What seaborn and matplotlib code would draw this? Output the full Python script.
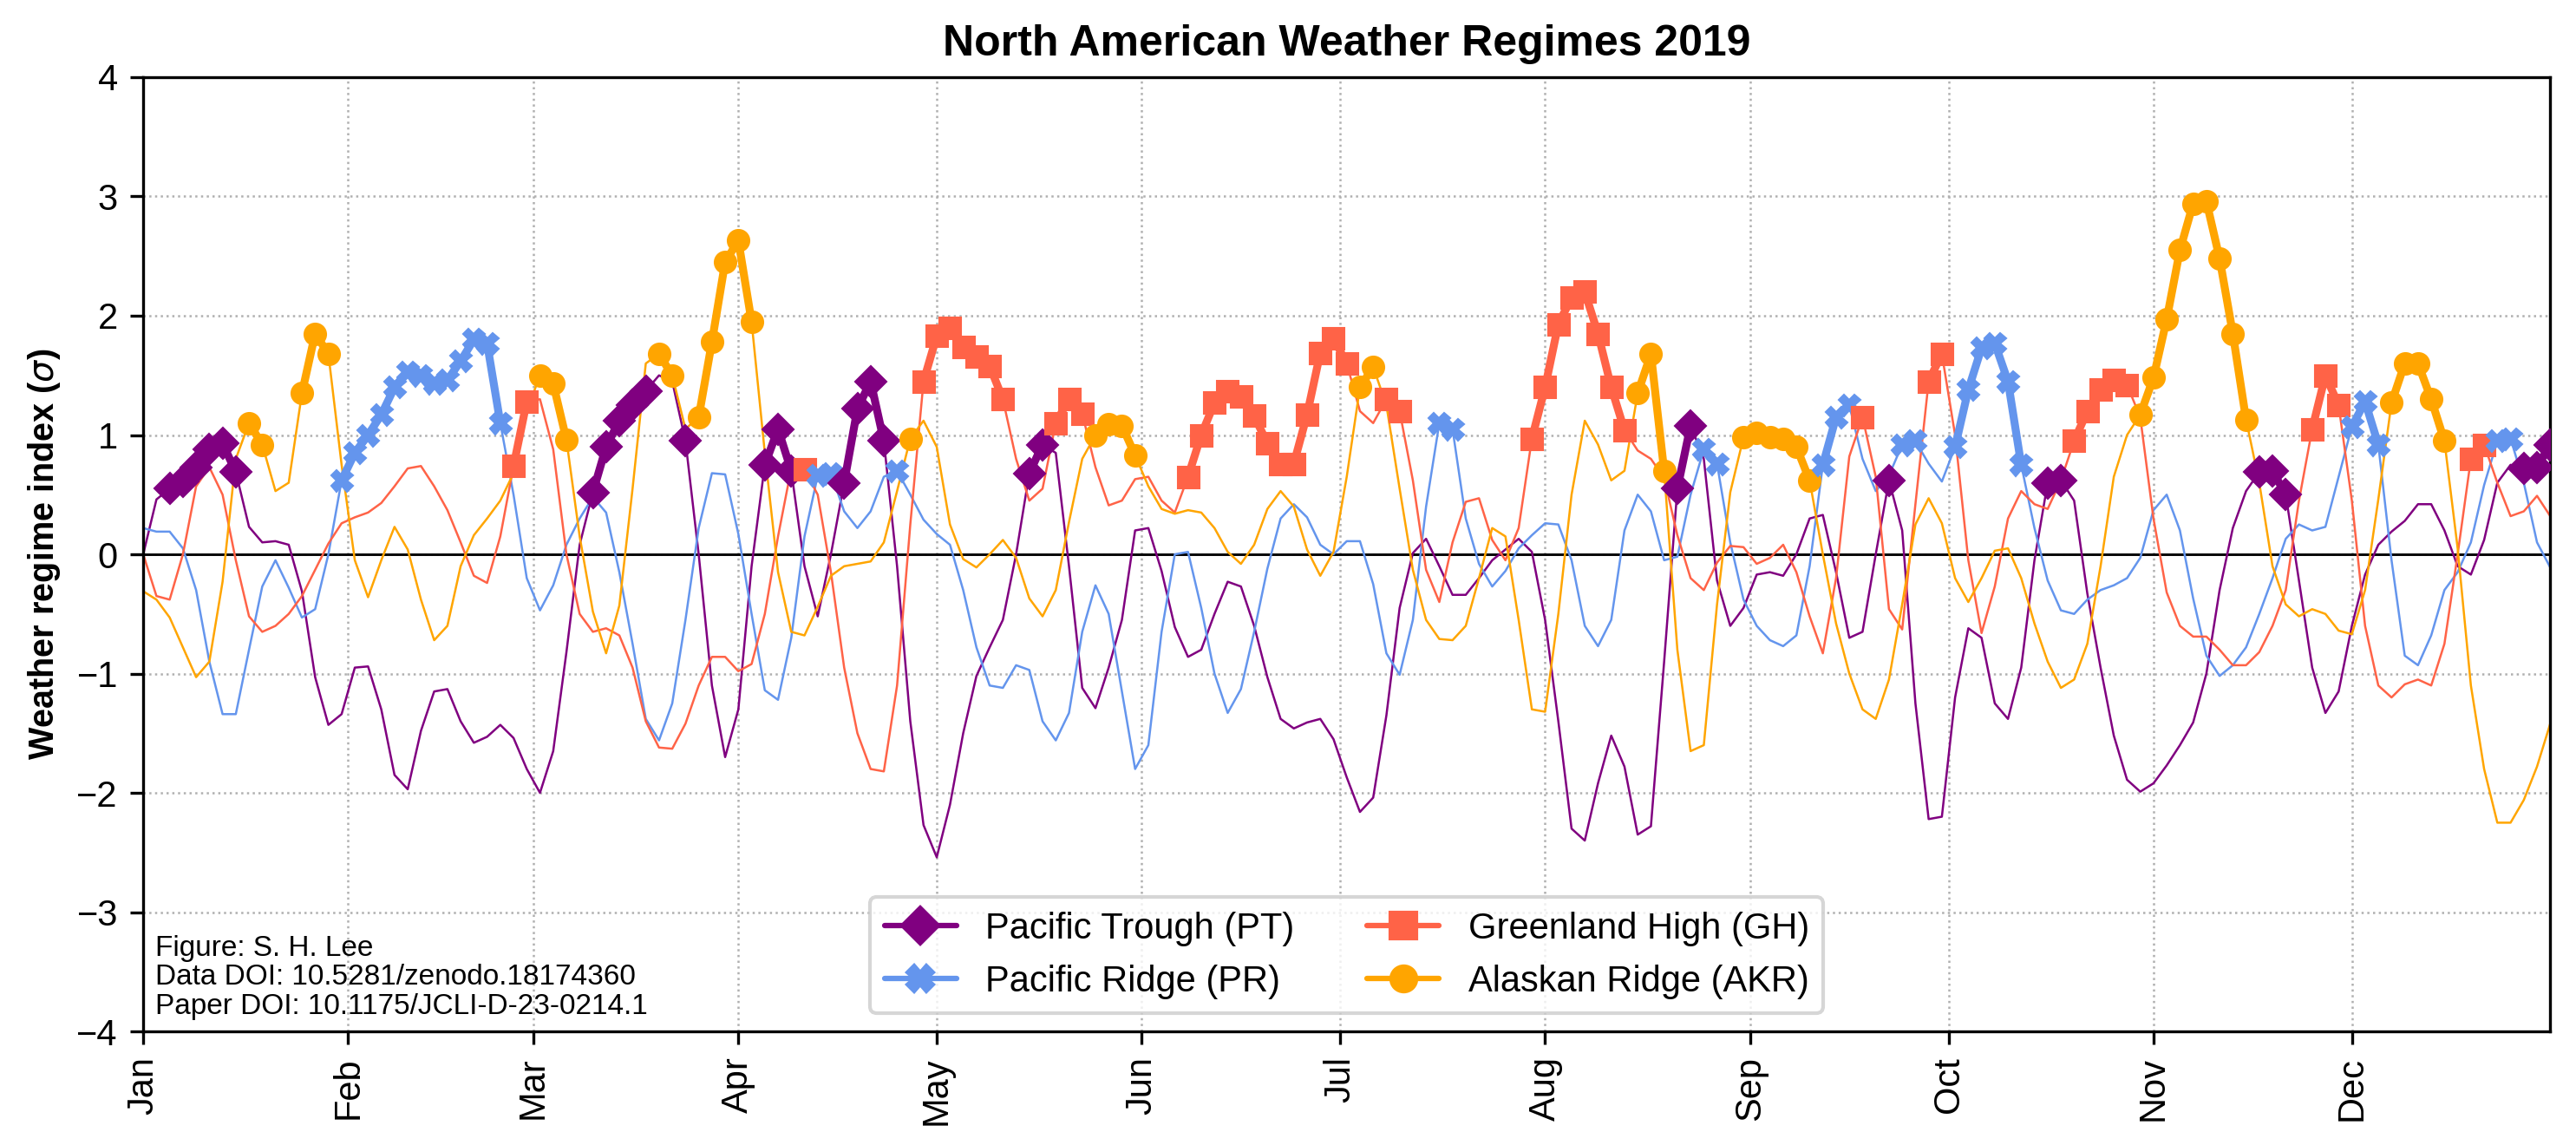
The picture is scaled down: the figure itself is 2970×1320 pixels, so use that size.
import numpy as np
import pandas as pd
import matplotlib
matplotlib.use("Agg")
import matplotlib.pyplot as plt
import matplotlib.dates as mdates
from matplotlib.lines import Line2D
import seaborn as sns

# index values read every second day of 2019 (day-of-year 0, 2, ..., 364)
DAYS = np.arange(0, 365, 2)

PT = [0.0, 0.46, 0.55, 0.61, 0.73, 0.88, 0.93, 0.69, 0.23, 0.10,
      0.11, 0.08, -0.31, -1.03, -1.43, -1.34, -0.95, -0.94, -1.3, -1.85,
      -1.97, -1.48, -1.15, -1.13, -1.4, -1.58, -1.53, -1.43, -1.54, -1.8,
      -2.0, -1.65, -0.82, 0.08, 0.52, 0.9, 1.12, 1.25, 1.37, 1.5,
      1.45, 0.95, 0.0, -1.1, -1.7, -1.3, -0.1, 0.75, 1.05, 0.7,
      -0.1, -0.52, 0.0, 0.6, 1.22, 1.45, 0.95, -0.1, -1.4, -2.27,
      -2.54, -2.1, -1.5, -1.02, -0.78, -0.55, 0.0, 0.68, 0.92, 0.85,
      -0.1, -1.12, -1.29, -0.95, -0.55, 0.2, 0.22, -0.14, -0.61, -0.86,
      -0.8, -0.5, -0.23, -0.27, -0.6, -1.03, -1.38, -1.46, -1.41, -1.38,
      -1.55, -1.87, -2.16, -2.04, -1.35, -0.45, 0.01, 0.13, -0.1, -0.34,
      -0.34, -0.2, -0.05, 0.04, 0.13, 0.02, -0.55, -1.4, -2.3, -2.4,
      -1.92, -1.52, -1.78, -2.35, -2.28, -0.9, 0.55, 1.08, 0.8, -0.22,
      -0.6, -0.45, -0.17, -0.15, -0.18, 0.0, 0.3, 0.33, -0.15, -0.7,
      -0.65, 0.0, 0.62, 0.2, -1.25, -2.22, -2.2, -1.2, -0.62, -0.7,
      -1.25, -1.38, -0.95, -0.05, 0.6, 0.62, 0.45, -0.33, -0.95, -1.52,
      -1.89, -1.99, -1.92, -1.77, -1.6, -1.41, -1.0, -0.3, 0.22, 0.53,
      0.69, 0.7, 0.5, -0.22, -0.95, -1.33, -1.15, -0.6, -0.17, 0.08,
      0.19, 0.28, 0.42, 0.42, 0.2, -0.1, -0.17, 0.12, 0.6, 0.75,
      0.72, 0.73, 0.92]

PR = [0.22, 0.19, 0.19, 0.05, -0.3, -0.9, -1.34, -1.34, -0.8, -0.27,
      -0.05, -0.28, -0.53, -0.46, 0.0, 0.62, 0.85, 1.0, 1.17, 1.4,
      1.53, 1.5, 1.43, 1.46, 1.62, 1.8, 1.77, 1.1, 0.5, -0.2,
      -0.47, -0.26, 0.08, 0.3, 0.48, 0.35, -0.15, -0.75, -1.38, -1.56,
      -1.25, -0.55, 0.22, 0.68, 0.67, 0.17, -0.5, -1.14, -1.22, -0.7,
      0.15, 0.66, 0.68, 0.36, 0.22, 0.36, 0.65, 0.7, 0.5, 0.29,
      0.17, 0.08, -0.3, -0.78, -1.1, -1.12, -0.93, -0.97, -1.4, -1.56,
      -1.33, -0.65, -0.26, -0.5, -1.15, -1.8, -1.6, -0.65, 0.0, 0.02,
      -0.45, -1.0, -1.33, -1.13, -0.65, -0.12, 0.3, 0.42, 0.31, 0.08,
      0.0, 0.11, 0.11, -0.25, -0.83, -1.01, -0.55, 0.4, 1.1, 1.05,
      0.3, -0.08, -0.27, -0.14, 0.05, 0.16, 0.26, 0.25, -0.05, -0.6,
      -0.77, -0.55, 0.2, 0.5, 0.36, -0.05, -0.02, 0.5, 0.88, 0.76,
      0.1, -0.38, -0.6, -0.72, -0.77, -0.68, -0.1, 0.75, 1.15, 1.25,
      0.8, 0.53, 0.66, 0.92, 0.95, 0.76, 0.61, 0.9, 1.38, 1.73,
      1.77, 1.45, 0.75, 0.22, -0.22, -0.47, -0.5, -0.38, -0.3, -0.26,
      -0.2, -0.03, 0.37, 0.5, 0.2, -0.37, -0.85, -1.02, -0.93, -0.78,
      -0.5, -0.2, 0.13, 0.25, 0.2, 0.23, 0.65, 1.07, 1.28, 0.92,
      -0.05, -0.85, -0.93, -0.68, -0.3, -0.15, 0.1, 0.58, 0.95, 0.97,
      0.6, 0.1, -0.11]

GH = [0.0, -0.35, -0.38, 0.0, 0.57, 0.73, 0.5, -0.05, -0.52, -0.65,
      -0.6, -0.5, -0.35, -0.13, 0.09, 0.26, 0.31, 0.35, 0.43, 0.57,
      0.72, 0.74, 0.57, 0.37, 0.1, -0.18, -0.24, 0.15, 0.74, 1.28,
      1.3, 0.88, 0.0, -0.5, -0.65, -0.62, -0.68, -0.95, -1.4, -1.62,
      -1.63, -1.42, -1.1, -0.86, -0.86, -0.98, -0.92, -0.5, 0.15, 0.72,
      0.71, 0.5, -0.15, -0.95, -1.5, -1.8, -1.82, -1.1, 0.25, 1.45,
      1.83, 1.9, 1.74, 1.66, 1.58, 1.3, 0.8, 0.45, 0.55, 1.1,
      1.3, 1.18, 0.73, 0.41, 0.45, 0.63, 0.65, 0.45, 0.35, 0.65,
      1.0, 1.27, 1.37, 1.32, 1.16, 0.93, 0.76, 0.76, 1.17, 1.69,
      1.81, 1.6, 1.2, 1.1, 1.3, 1.2, 0.62, -0.13, -0.4, 0.1,
      0.44, 0.47, 0.12, -0.05, 0.22, 0.97, 1.4, 1.93, 2.15, 2.2,
      1.85, 1.4, 1.04, 0.87, 0.8, 0.64, 0.16, -0.2, -0.3, -0.07,
      0.07, 0.06, -0.08, -0.03, 0.08, -0.15, -0.52, -0.83, -0.2, 0.82,
      1.15, 0.65, -0.46, -0.63, 0.42, 1.45, 1.68, 1.0, -0.05, -0.66,
      -0.27, 0.3, 0.53, 0.42, 0.38, 0.62, 0.95, 1.2, 1.38, 1.46,
      1.42, 1.15, 0.3, -0.32, -0.6, -0.69, -0.69, -0.8, -0.93, -0.93,
      -0.82, -0.6, -0.3, 0.45, 1.05, 1.5, 1.25, 0.45, -0.6, -1.1,
      -1.2, -1.09, -1.05, -1.1, -0.75, 0.0, 0.8, 0.92, 0.6, 0.32,
      0.36, 0.49, 0.32]

AKR = [-0.31, -0.38, -0.53, -0.78, -1.03, -0.9, -0.23, 0.8, 1.1, 0.92,
       0.53, 0.6, 1.35, 1.85, 1.68, 0.75, -0.05, -0.36, -0.05, 0.23,
       0.04, -0.38, -0.72, -0.6, -0.1, 0.16, 0.3, 0.45, 0.68, 1.2,
       1.5, 1.43, 0.96, 0.15, -0.48, -0.83, -0.43, 0.55, 1.6, 1.68,
       1.5, 1.05, 1.15, 1.78, 2.45, 2.63, 1.95, 0.85, -0.15, -0.65,
       -0.68, -0.44, -0.18, -0.1, -0.08, -0.06, 0.1, 0.53, 0.97, 1.12,
       0.9, 0.25, -0.04, -0.11, 0.0, 0.12, -0.03, -0.37, -0.52, -0.3,
       0.27, 0.8, 1.0, 1.09, 1.08, 0.83, 0.57, 0.38, 0.34, 0.37,
       0.35, 0.22, 0.02, -0.08, 0.08, 0.38, 0.53, 0.4, 0.04, -0.18,
       0.02, 0.65, 1.4, 1.57, 1.25, 0.55, -0.13, -0.55, -0.71, -0.72,
       -0.6, -0.2, 0.22, 0.15, -0.55, -1.3, -1.32, -0.5, 0.5, 1.12,
       0.92, 0.62, 0.7, 1.35, 1.68, 0.7, -0.8, -1.65, -1.6, -0.42,
       0.52, 0.98, 1.02, 0.98, 0.97, 0.9, 0.62, 0.0, -0.58, -1.0,
       -1.3, -1.38, -1.05, -0.42, 0.25, 0.47, 0.26, -0.2, -0.4, -0.2,
       0.03, 0.05, -0.2, -0.58, -0.9, -1.12, -1.05, -0.75, -0.1, 0.65,
       1.0, 1.17, 1.48, 1.97, 2.55, 2.94, 2.96, 2.48, 1.85, 1.13,
       0.6, -0.1, -0.42, -0.52, -0.46, -0.5, -0.64, -0.67, -0.3, 0.46,
       1.27, 1.6, 1.6, 1.3, 0.95, 0.05, -1.1, -1.8, -2.25, -2.25,
       -2.06, -1.78, -1.42]

# active regime periods: (regime, first day, last day), day-of-year
ACTIVE = [("PT", 4, 14), ("AKR", 16, 18), ("AKR", 24, 28), ("PR", 30, 54),
          ("GH", 56, 58), ("AKR", 60, 64), ("PT", 68, 76), ("AKR", 78, 80),
          ("PT", 82, 82), ("AKR", 84, 92), ("PT", 94, 98), ("GH", 100, 100),
          ("PR", 102, 104), ("PT", 106, 112), ("PR", 114, 114), ("AKR", 116, 116),
          ("GH", 118, 130), ("PT", 134, 136), ("GH", 138, 142), ("AKR", 144, 150),
          ("GH", 158, 182), ("AKR", 184, 186), ("GH", 188, 190), ("PR", 196, 198),
          ("GH", 210, 224), ("AKR", 226, 230), ("PT", 232, 234), ("PR", 236, 238),
          ("AKR", 242, 252), ("PR", 254, 258), ("GH", 260, 260), ("PT", 264, 264),
          ("PR", 266, 268), ("GH", 270, 272), ("PR", 274, 284), ("PT", 288, 290),
          ("GH", 292, 300), ("AKR", 302, 318), ("PT", 320, 324), ("GH", 328, 332),
          ("PR", 334, 338), ("AKR", 340, 348), ("GH", 352, 354), ("PR", 356, 358),
          ("PT", 360, 364)]

REGIMES = ["PT", "PR", "GH", "AKR"]
LABELS = {"PT": "Pacific Trough (PT)", "PR": "Pacific Ridge (PR)",
          "GH": "Greenland High (GH)", "AKR": "Alaskan Ridge (AKR)"}
COLORS = {"PT": "purple", "PR": "cornflowerblue", "GH": "tomato", "AKR": "orange"}
MARKERS = {"PT": "D", "PR": "X", "GH": "s", "AKR": "o"}


def build_frame():
    dates = pd.Timestamp("2019-01-01") + pd.to_timedelta(DAYS, unit="D")
    parts = []
    for name, vals in zip(REGIMES, [PT, PR, GH, AKR]):
        parts.append(pd.DataFrame({"date": dates, "day": DAYS,
                                   "value": vals, "regime": name}))
    return pd.concat(parts, ignore_index=True)


def main():
    sns.set_style("ticks")
    plt.rcParams["font.family"] = ["Liberation Sans", "DejaVu Sans"]
    # plain black text and ticks, like a default matplotlib figure
    for key in ["text.color", "axes.labelcolor", "xtick.color", "ytick.color",
                "axes.edgecolor"]:
        plt.rcParams[key] = "black"

    df = build_frame()

    fig, ax = plt.subplots(figsize=(9.9, 4.4), dpi=300)
    fig.subplots_adjust(left=0.0556, right=0.99, top=0.9326, bottom=0.0992)

    ax.grid(True, linestyle=":", color="#b0b0b0", linewidth=0.6)
    ax.set_axisbelow(True)
    ax.axhline(0, color="black", linewidth=0.7, zorder=1)

    # thin lines for the whole year
    sns.lineplot(data=df, x="date", y="value", hue="regime", hue_order=REGIMES,
                 palette=COLORS, linewidth=0.6, errorbar=None, legend=False,
                 ax=ax, zorder=2)

    # thick lines + markers where the regime is active
    for regime, start, end in ACTIVE:
        seg = df[(df.regime == regime) & (df.day >= start) & (df.day <= end)]
        sns.lineplot(data=seg, x="date", y="value", color=COLORS[regime],
                     linewidth=2.2, marker=MARKERS[regime], markersize=6,
                     markeredgecolor=COLORS[regime], markeredgewidth=0.5,
                     errorbar=None, legend=False, ax=ax, zorder=3)

    ax.set_xlim(pd.Timestamp("2019-01-01"), pd.Timestamp("2019-12-31"))
    ax.set_ylim(-4, 4)
    ax.set_yticks(range(-4, 5))
    ax.xaxis.set_major_locator(mdates.MonthLocator())
    ax.xaxis.set_major_formatter(mdates.DateFormatter("%b"))
    ax.tick_params(axis="x", labelrotation=90, labelsize=10, colors="black")
    ax.tick_params(axis="y", labelsize=10, colors="black")
    for sp in ax.spines.values():
        sp.set_color("black")

    ax.set_xlabel("")
    ax.set_ylabel(r"Weather regime index ($\sigma$)", fontsize=9.5,
                  fontweight="bold", color="black")
    ax.set_title("North American Weather Regimes 2019", fontsize=12,
                 fontweight="bold", color="black")

    handles = [Line2D([], [], color=COLORS[r], marker=MARKERS[r], linewidth=1.5,
                      markersize=7, label=LABELS[r]) for r in REGIMES]
    ax.legend(handles=handles, loc="lower center", ncol=2, fontsize=10)

    ax.text(0.005, 0.012,
            "Figure: S. H. Lee\nData DOI: 10.5281/zenodo.18174360\n"
            "Paper DOI: 10.1175/JCLI-D-23-0214.1",
            transform=ax.transAxes, fontsize=8, va="bottom", ha="left",
            linespacing=1.1, color="black")

    fig.savefig("out.png", dpi=300)


if __name__ == "__main__":
    main()
